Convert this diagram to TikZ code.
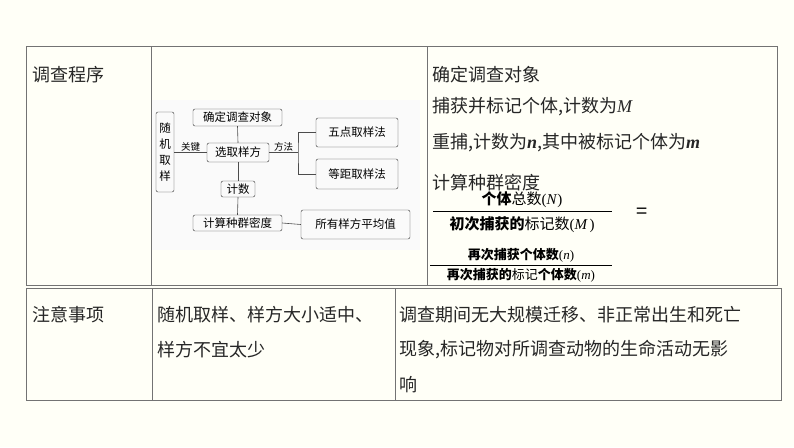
\documentclass[tikz,border=0pt]{standalone}
\usepackage{fontspec}
\setmainfont{Noto Sans CJK SC}
\newfontfamily\lser{Liberation Serif}
\begin{document}
\begin{tikzpicture}[x=1pt,y=-1pt,
  grid/.style={draw=black!55,line width=0.9pt},
  txt/.style={anchor=west,inner sep=0pt,font=\fontsize{18}{20}\selectfont,text=black!85},
  fb/.style={draw=black!80,rounded corners=2pt,inner sep=0pt,font=\fontsize{11.5}{13}\selectfont,align=center},
  fl/.style={draw=black!70,line width=0.6pt},
  lbl/.style={inner sep=0pt,font=\fontsize{9.5}{11}\selectfont}]
\fill[white!97!yellow] (0,0) rectangle (794,447);
\useasboundingbox (0,0) rectangle (794,447);
% table 1
\draw[grid] (26,46) rectangle (777,285);
\draw[grid] (151,46) -- (151,285);
\draw[grid] (427,46) -- (427,285);
% table 2
\draw[grid] (26,288) rectangle (781,400);
\draw[grid] (152,288) -- (152,400);
\draw[grid] (395,288) -- (395,400);
% row 1 texts
\node[txt] (t1) at (32,75) {调查程序};
\node[txt] (r1) at (432,75) {确定调查对象};
\node[txt] (r2) at (432,107) {捕获并标记个体,计数为{\lser\itshape M}};
\node[txt] (r3) at (432,143) {重捕,计数为{\lser\itshape\bfseries n},其中被标记个体为{\lser\itshape\bfseries m}};
\node[txt] (r4) at (432,183) {计算种群密度};
% fractions
\node[inner sep=0pt,font=\fontsize{15}{17}\selectfont] (n1) at (522,200) {\textbf{个体}总数{\lser(\textit{N})}};
\draw[line width=0.8pt] (433,211) -- (612,211);
\node[inner sep=0pt,font=\fontsize{15}{17}\selectfont] (d1) at (522,225) {\textbf{初次捕获的}标记数{\lser(\textit{M\,})}};
\node[inner sep=0pt,font=\fontsize{20}{22}\selectfont] (eq) at (642,213) {=};
\node[inner sep=0pt,font=\fontsize{13}{15}\selectfont] (n2) at (521,255) {\textbf{再次捕获个体数}{\lser(\textit{n})}};
\draw[line width=0.8pt] (430,265) -- (612,265);
\node[inner sep=0pt,font=\fontsize{13}{15}\selectfont] (d2) at (521,275) {\textbf{再次捕获的}标记\textbf{个体数}{\lser(\textit{m})}};
% flowchart
\fill[black!2] (152,100) rectangle (420,250);
\node[fb,minimum width=18pt,minimum height=80pt] (sj) at (165,152) {随\\[3pt]机\\[3pt]取\\[3pt]样};
\node[fb,minimum width=89pt,minimum height=17pt] (qd) at (237.5,117.5) {确定调查对象};
\node[fb,minimum width=62pt,minimum height=19pt] (xq) at (238,152.5) {选取样方};
\node[fb,minimum width=34pt,minimum height=16pt] (js) at (238,189) {计数};
\node[fb,minimum width=89pt,minimum height=16pt] (jsz) at (237.5,223) {计算种群密度};
\node[fb,minimum width=82pt,minimum height=29pt] (wd) at (357,132.5) {五点取样法};
\node[fb,minimum width=82pt,minimum height=30pt] (dj) at (357,174) {等距取样法};
\node[fb,minimum width=109pt,minimum height=29pt] (sy) at (355.5,224.5) {所有样方平均值};
\draw[fl] (sj.east |- xq.west) -- node[lbl,above=1pt] {关键} (xq.west);
\coordinate (br) at (298,152.5);
\draw[fl] (xq.east) -- node[lbl,above=1pt] {方法} (br);
\draw[fl] (wd.west) -| (br) |- (dj.west);
\draw[fl] (qd.south) -- (xq.north);
\draw[fl] (xq.south) -- (js.north);
\draw[fl] (js.south) -- (jsz.north);
\draw[fl] (jsz.east) -- (sy.west);
% row 2 texts
\node[txt] (t2) at (32,315) {注意事项};
\node[txt] (m1) at (157,315) {随机取样、样方大小适中、};
\node[txt] (m2) at (157,350) {样方不宜太少};
\node[txt] (q1) at (399,315) {调查期间无大规模迁移、非正常出生和死亡};
\node[txt] (q2) at (399,350) {现象,标记物对所调查动物的生命活动无影};
\node[txt] (q3) at (399,385) {响};
\end{tikzpicture}
\end{document}
